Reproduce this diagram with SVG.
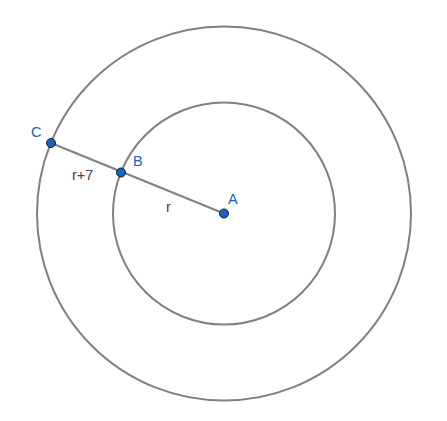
<svg xmlns="http://www.w3.org/2000/svg" width="447" height="421" viewBox="0 0 447 421">
<style>
.c{fill:none;stroke:#808080;stroke-width:2}
.s{stroke:#808080;stroke-width:2}
.p{fill:#1565c0;stroke:#1a1a1a;stroke-width:1}
.lb{font-family:"Liberation Sans",Arial,sans-serif;font-size:14.5px;fill:#1565c0}
.lg{font-family:"Liberation Sans",Arial,sans-serif;font-size:14.5px;fill:#444}
</style>
<rect width="447" height="421" fill="#fff"/>
<g id="outer"><circle class="c" cx="224" cy="213.5" r="187"/></g>
<g id="inner"><circle class="c" cx="224" cy="213.5" r="111"/></g>
<g id="connectors">
<line class="s" x1="51" y1="143" x2="224" y2="213.5"/>
<text class="lg" x="72" y="180">r+7</text>
<text class="lg" x="166" y="212">r</text>
</g>
<g id="C"><circle class="p" cx="51" cy="143" r="4.5"/><text class="lb" x="31" y="137">C</text></g>
<g id="B"><circle class="p" cx="121" cy="172.5" r="4.5"/><text class="lb" x="133" y="166">B</text></g>
<g id="A"><circle class="p" cx="224" cy="213.5" r="4.5"/><text class="lb" x="228" y="204">A</text></g>
</svg>
